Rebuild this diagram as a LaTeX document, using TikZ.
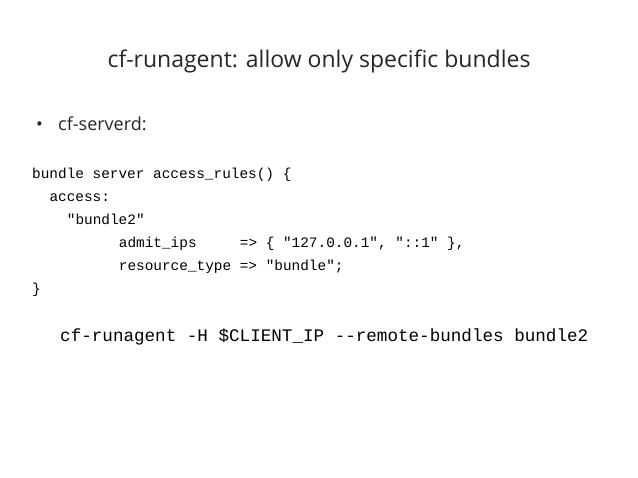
\documentclass[tikz,border=0pt]{standalone}
\usepackage{fontspec}
\setmainfont{Open Sans}
\newfontfamily\codefont{Liberation Mono}
\begin{document}
\begin{tikzpicture}[x=1pt,y=-1pt,
  code/.style={anchor=base west,inner sep=0pt,font=\codefont\fontsize{14.4}{16}\selectfont},
  txt/.style={inner sep=0pt,text=black!85}]
\useasboundingbox (0,0) rectangle (638,478);
\node[txt,anchor=base,font=\fontsize{23}{28}\selectfont] (title) at (319,68) {cf-runagent: allow only specific bundles};
\node[txt,anchor=base west,font=\fontsize{18}{22}\selectfont] (bul) at (36,131) {\textbullet};
\node[txt,anchor=base west,font=\fontsize{18}{22}\selectfont] (srv) at (58,131) {cf-serverd:};
\node[code] (l1) at (32,179) {bundle server access\_rules() \{};
\node[code] (l2) at (49.3,202) {access:};
\node[code] (l3) at (66.7,225) {"bundle2"};
\node[code] (l4) at (118.7,248) {admit\_ips~~~~~=>~\{~"127.0.0.1",~"::1"~\},};
\node[code] (l5) at (118.7,271) {resource\_type~=>~"bundle";};
\node[code] (l6) at (32,294) {\}};
\node[code,font=\codefont\fontsize{17.6}{20}\selectfont] (cmd) at (60,342) {cf-runagent~-H~\$CLIENT\_IP~-{}-remote-bundles~bundle2};
\end{tikzpicture}
\end{document}
